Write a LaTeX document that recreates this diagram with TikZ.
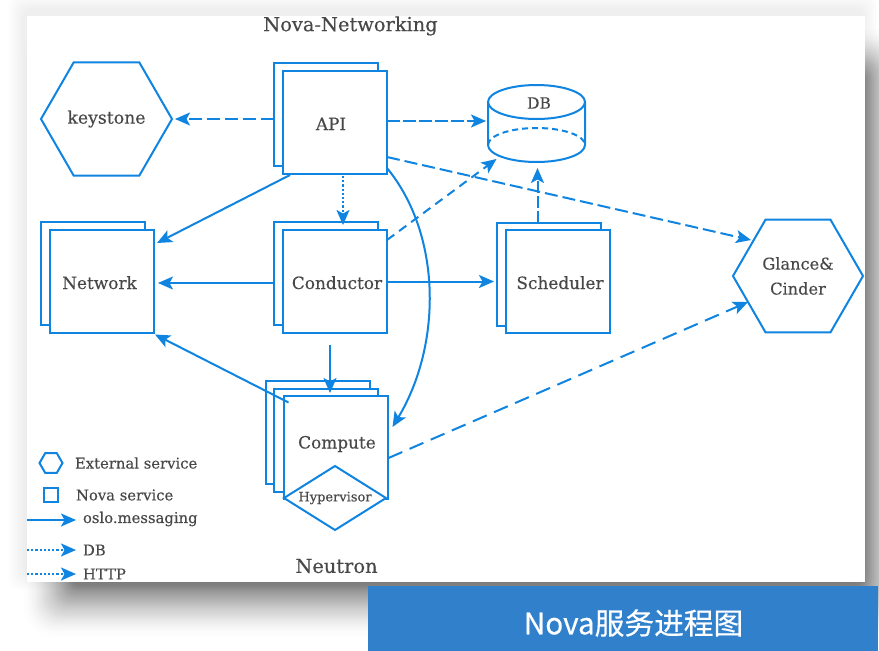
\documentclass[tikz,border=0pt]{standalone}
\usepackage{fontspec}
\setmainfont[FakeBold=0.25]{DejaVu Serif}
\newfontfamily\cjk[FakeBold=0.5]{Noto Sans CJK SC}
\usetikzlibrary{shapes.geometric,arrows.meta}
\definecolor{novablue}{HTML}{0F84E0}
\definecolor{bar}{HTML}{3180CC}
\definecolor{ink}{HTML}{484848}
\tikzset{
  every node/.style={outer sep=0pt,inner sep=0pt,text=ink},
  svc/.style={draw=novablue,line width=2pt,fill=white,minimum width=104pt,minimum height=103pt,
    font=\fontsize{16.9}{22}\selectfont,text height=15pt,text depth=0pt},
  ext/.style={draw=novablue,line width=2pt,fill=white,regular polygon,regular polygon sides=6,
    align=center,font=\fontsize{16.2}{25}\selectfont},
  legtxt/.style={anchor=west,font=\fontsize{14.8}{16}\selectfont},
  link/.style={novablue,line width=2pt,-{Stealth[length=15pt,width=13pt,inset=3.5pt]}},
  linkdash/.style={link,dash pattern=on 13pt off 5pt},
  linkdot/.style={link,dash pattern=on 2.2pt off 2pt},
}
\begin{document}
\begin{tikzpicture}[x=1pt,y=-1pt]
\useasboundingbox (0,0) rectangle (879,651);
% soft shadow behind the panel
\foreach \i in {0,...,39}{
  \pgfmathsetmacro{\op}{0.036*(\i+1)/40}
  \fill[black,opacity=\op,rounded corners={32pt-0.75pt*\i}]
    (20+1.5*\i,25+1.5*\i) rectangle (915-1.5*\i,640-1.5*\i);
}
\foreach \i in {0,...,15}
  \fill[black,opacity=0.0045,rounded corners=10pt]
    (8+\i,-6+\i) rectangle (878-\i,590-\i);
\fill[white] (27,16) rectangle (865,582);
\fill[bar] (368,586) rectangle (877.5,651);
\node[text=white,font=\fontsize{29.7}{32}\cjk] (title) at (633.5,623) {Nova服务进程图};

\node[font=\fontsize{19.4}{22}\selectfont] (nn) at (350.5,26) {Nova-Networking};
\node[font=\fontsize{19.4}{22}\selectfont] (neu) at (336.5,566) {Neutron};

% external services
\node[ext,minimum size=131pt,font=\fontsize{17.3}{25}\selectfont] (key) at (106.5,119) {keystone};
\node[ext,minimum size=130pt] (gl) at (798,276) {Glance\&\\Cinder};

% database
\node[minimum width=97pt,minimum height=76pt] (db) at (536.5,124) {};
\draw[novablue,line width=2pt] (488,102) -- (488,145) arc[start angle=180,end angle=0,x radius=48.5,y radius=17] -- (585,102);
\draw[novablue,line width=2pt] (536.5,102) ellipse[x radius=48.5,y radius=17];
\draw[novablue,line width=2pt,dash pattern=on 6pt off 4pt] (488,145) arc[start angle=180,end angle=360,x radius=48.5,y radius=17];
\node[font=\fontsize{15.5}{20}\selectfont] (dbt) at (539,103) {DB};

% nova services
\node[svc] (apib) at (326,114.5) {};
\node[svc] (api) at (335,122.5) {\kern-8pt API};
\node[svc] (netb) at (92.5,273.5) {};
\node[svc] (net) at (101.5,281.5) {\kern-4pt Network};
\node[svc] (condb) at (326,273.5) {};
\node[svc] (cond) at (335,281.5) {\kern4pt Conductor};
\node[svc] (schb) at (548.5,274) {};
\node[svc] (sch) at (557.5,281.5) {\kern5pt Scheduler};
\node[svc] (compb) at (317.5,432.5) {};
\node[svc] (compm) at (326,440) {};
\node[svc,text depth=12pt] (comp) at (335.5,447) {\kern3pt Compute};
\node[diamond,aspect=1.6,draw=novablue,line width=2pt,fill=white,minimum width=102pt,minimum height=64pt,
  font=\fontsize{13}{14}\selectfont] (hyp) at (335,498) {Hypervisor};

% connectors
\draw[linkdash,shorten >=3pt] (key.east -| apib.west) -- (key.east);
\draw[linkdash,dash pattern=on 13pt off 3pt] ([shift={(0,-1.5)}]api.east) -- ([shift={(-2,-3)}]db.west);
\draw[linkdash] ([shift={(0,34.5)}]api.east) -- ([shift={(-47,-36)}]gl.center);
\draw[link] ([shift={(-45,1)}]api.south) -- ([shift={(3.5,-38.5)}]net.east);
\draw[linkdot] ([shift={(8,2)}]api.south) -- ([shift={(17,3)}]condb.north);
\draw[link] ([shift={(0,45.5)}]api.east) .. controls (442,235) and (442,345) .. ([shift={(5,-20)}]comp.east);
\draw[link] ([shift={(0,9.5)}]condb.west) -- ([shift={(4.5,1.5)}]net.east);
\draw[link] (cond.east) -- ([shift={(-2.5,7.5)}]schb.west);
\draw[linkdash,dash pattern=on 9pt off 6pt] ([shift={(0,-41.5)}]cond.east) -- ([shift={(-40,-3)}]db.south);
\draw[linkdash,dash pattern=on 12pt off 3pt] ([shift={(-11,0)}]schb.north) -- ([shift={(1,6)}]db.south);
\draw[link] ([shift={(-5,12)}]cond.south) -- ([shift={(12.5,12)}]compb.north);
\draw[link] ([shift={(5,7)}]comp.north west) -- ([shift={(53.5,1.5)}]net.south);
\draw[linkdash,dash pattern=on 15pt off 8pt] ([shift={(1,11)}]comp.east) -- ([shift={(-50,26)}]gl.center);

% legend
\node[ext,minimum size=23pt] (lhex) at (51,463) {};
\node[legtxt] (lext) at (75,463) {External service};
\node[draw=novablue,line width=2pt,minimum size=14pt] (lsq) at (51,495) {};
\node[legtxt] (lnova) at (76,495) {Nova service};
\node[legtxt] (losl) at (83,519) {oslo.messaging};
\node[legtxt] (ldb) at (83,550) {DB};
\node[legtxt] (lhttp) at (83,574) {HTTP};
\coordinate (e1) at (27,520);
\coordinate (e2) at (27,550);
\coordinate (e3) at (27,574);
\draw[link,shorten >=7pt] (e1) -- (e1 -| losl.west);
\draw[linkdot,shorten >=7pt] (e2) -- (e2 -| ldb.west);
\draw[linkdot,shorten >=7pt] (e3) -- (e3 -| lhttp.west);
\end{tikzpicture}
\end{document}
